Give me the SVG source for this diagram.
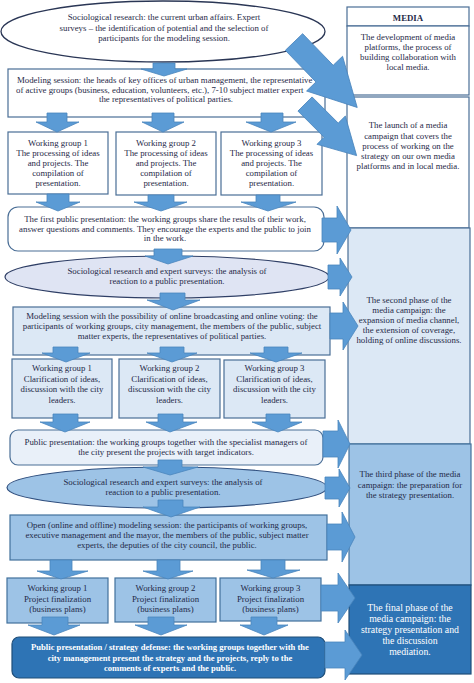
<svg xmlns="http://www.w3.org/2000/svg" width="474" height="683" viewBox="0 0 474 683">
<style>
text{font-family:"Liberation Serif","Times New Roman",serif;font-size:8.8px;fill:#1f2a48;text-anchor:middle}
.w{fill:#ffffff;stroke:#4a6e96;stroke-width:1.2}
.l{fill:#dce8f5;stroke:#4a6e96;stroke-width:1.2}
.m{fill:#9dc3e6;stroke:#41719c;stroke-width:1.2}
.d{fill:#2e74b5;stroke:#1f4e79;stroke-width:1.2}
.arr{fill:#5b9bd5;stroke:#4a85bd;stroke-width:0.8}
.b{font-weight:bold}
.wt{fill:#ffffff}
.big{font-size:9.8px}
</style>
<rect width="474" height="683" fill="#ffffff"/>

<g id="media">
<rect x="347" y="7" width="122" height="19" class="w"/>
<text x="408" y="20.5" class="b">MEDIA</text>
<rect x="347" y="26" width="122" height="69" class="w"/>
<text x="408" y="40">The development of media</text>
<text x="408" y="50">platforms, the process of</text>
<text x="408" y="60">building collaboration with</text>
<text x="408" y="70">local media.</text>
<rect x="347" y="97" width="122" height="131" class="w"/>
<text x="408" y="128">The launch of a media</text>
<text x="408" y="138.5">campaign that covers the</text>
<text x="408" y="149">process of working on the</text>
<text x="408" y="159">strategy on our own media</text>
<text x="408" y="169">platforms and in local media.</text>
<rect x="348" y="228" width="122" height="216" class="l"/>
<text x="409" y="303">The second phase of the</text>
<text x="409" y="313">media campaign: the</text>
<text x="409" y="323">expansion of media channel,</text>
<text x="409" y="333">the extension of coverage,</text>
<text x="409" y="343">holding of online discussions.</text>
<rect x="349" y="444" width="122" height="141" class="m"/>
<text x="410" y="477">The third phase of the media</text>
<text x="410" y="487.5">campaign: the preparation for</text>
<text x="410" y="498">the strategy presentation.</text>
<rect x="349" y="585" width="122" height="89" class="d"/>
<text x="410" y="611" class="wt big">The final phase of the</text>
<text x="410" y="622" class="wt big">media campaign: the</text>
<text x="410" y="633" class="wt big">strategy presentation and</text>
<text x="410" y="644" class="wt big">the discussion</text>
<text x="410" y="655" class="wt big">mediation.</text>
</g>

<g id="survey1">
<ellipse cx="163" cy="31.5" rx="162" ry="30.5" fill="#ffffff" stroke="#2a3655" stroke-width="1.3"/>
<text x="164" y="20">Sociological research: the current urban affairs. Expert</text>
<text x="164" y="30.5">surveys – the identification of potential and the selection of</text>
<text x="164" y="41">participants for the modeling session.</text>
</g>

<g id="modeling1">
<rect x="8" y="69" width="317" height="48" class="w"/>
<text x="17" y="83" style="text-anchor:start">Modeling session: the heads of key offices of urban management, the representative</text>
<text x="16" y="92.5" style="text-anchor:start">of active groups (business, education, volunteers, etc.), 7-10 subject matter expert</text>
<text x="166" y="102">the representatives of political parties.</text>
</g>

<g id="wg1a">
<rect x="8" y="132" width="100" height="62" class="w"/>
<text x="58" y="146">Working group 1</text>
<text x="58" y="156">The processing of ideas</text>
<text x="58" y="166">and projects. The</text>
<text x="58" y="176">compilation of</text>
<text x="58" y="186">presentation.</text>
</g>
<g id="wg2a">
<rect x="116" y="132" width="100" height="63" class="w"/>
<text x="166" y="146">Working group 2</text>
<text x="166" y="156">The processing of ideas</text>
<text x="166" y="166">and projects. The</text>
<text x="166" y="176">compilation of</text>
<text x="166" y="186">presentation.</text>
</g>
<g id="wg3a">
<rect x="221" y="132" width="101" height="63" class="w"/>
<text x="271.5" y="146">Working group 3</text>
<text x="271.5" y="156">The processing of ideas</text>
<text x="271.5" y="166">and projects. The</text>
<text x="271.5" y="176">compilation of</text>
<text x="271.5" y="186">presentation.</text>
</g>

<g id="presentation1">
<rect x="8" y="207" width="316" height="44" rx="10" class="w"/>
<text x="165" y="222">The first public presentation: the working groups share the results of their work,</text>
<text x="165" y="231.5">answer questions and comments. They encourage the experts and the public to join</text>
<text x="165" y="241">in the work.</text>
</g>

<g id="survey2">
<ellipse cx="167" cy="277" rx="162" ry="21" fill="#dfe4f3" stroke="#2f3f66" stroke-width="1.2"/>
<text x="167" y="274">Sociological research and expert surveys: the analysis of</text>
<text x="167" y="284">reaction to a public presentation.</text>
</g>

<g id="modeling2">
<rect x="13" y="307" width="317" height="48" class="l"/>
<text x="172" y="319">Modeling session with the possibility of online broadcasting and online voting: the</text>
<text x="172" y="329">participants of working groups, city management, the members of the public, subject</text>
<text x="172" y="339">matter experts, the representatives of political parties.</text>
</g>

<g id="wg1b">
<rect x="12" y="359" width="100" height="59" class="l"/>
<text x="62" y="371">Working group 1</text>
<text x="62" y="381.5">Clarification of ideas,</text>
<text x="62" y="392">discussion with the city</text>
<text x="62" y="402.5">leaders.</text>
</g>
<g id="wg2b">
<rect x="119" y="359" width="101" height="59" class="l"/>
<text x="169.5" y="371">Working group 2</text>
<text x="169.5" y="381.5">Clarification of ideas,</text>
<text x="169.5" y="392">discussion with the city</text>
<text x="169.5" y="402.5">leaders.</text>
</g>
<g id="wg3b">
<rect x="224" y="360" width="101" height="58" class="l"/>
<text x="274.5" y="371">Working group 3</text>
<text x="274.5" y="381.5">Clarification of ideas,</text>
<text x="274.5" y="392">discussion with the city</text>
<text x="274.5" y="402.5">leaders.</text>
</g>

<g id="presentation2">
<rect x="10" y="430" width="313" height="35" rx="8" fill="#e9f0f9" stroke="#4a6e96" stroke-width="1.2"/>
<text x="166" y="445">Public presentation: the working groups together with the specialist managers of</text>
<text x="166" y="455">the city present the projects with target indicators.</text>
</g>

<g id="survey3">
<ellipse cx="167" cy="487.5" rx="160" ry="20.5" fill="#9dc3e6" stroke="#2f4f7f" stroke-width="1.2"/>
<text x="163" y="485">Sociological research and expert surveys: the analysis of</text>
<text x="163" y="495">reaction to a public presentation.</text>
</g>

<g id="modeling3">
<rect x="10" y="515" width="317" height="45" class="m"/>
<text x="167" y="528">Open (online and offline) modeling session: the participants of working groups,</text>
<text x="167" y="538">executive management and the mayor, the members of the public, subject matter</text>
<text x="167" y="548">experts, the deputies of the city council, the public.</text>
</g>

<g id="wg1c">
<rect x="7" y="578" width="101" height="45" class="m"/>
<text x="57.5" y="591">Working group 1</text>
<text x="57.5" y="601.5">Project finalization</text>
<text x="57.5" y="612">(business plans)</text>
</g>
<g id="wg2c">
<rect x="115" y="578" width="101" height="44" class="m"/>
<text x="165.5" y="591">Working group 2</text>
<text x="165.5" y="601.5">Project finalization</text>
<text x="165.5" y="612">(business plans)</text>
</g>
<g id="wg3c">
<rect x="220" y="578" width="101" height="43" class="m"/>
<text x="270.5" y="591">Working group 3</text>
<text x="270.5" y="601.5">Project finalization</text>
<text x="270.5" y="612">(business plans)</text>
</g>

<g id="defense">
<rect x="12" y="637" width="313" height="41" rx="7" class="d"/>
<text x="170" y="650" class="b wt" style="font-size:8.6px">Public presentation / strategy defense: the working groups together with the</text>
<text x="170" y="660.5" class="b wt" style="font-size:8.6px">city management present the strategy and the projects, reply to the</text>
<text x="170" y="671" class="b wt" style="font-size:8.6px">comments of experts and the public.</text>
</g>

<g id="connectors">
<!-- down arrows -->
<polygon class="arr" points="153,63 175,63 175,69 187,69 164,76 141,69 153,69"/>
<polygon class="arr" points="47,113 67,113 67,122 79,122 57,132 36,122 47,122"/>
<polygon class="arr" points="152,113 174,113 174,122 184,122 163,132 142,122 152,122"/>
<polygon class="arr" points="261,113 283,113 283,122 296,122 271,132 246,122 261,122"/>
<polygon class="arr" points="47,194 69,194 69,202 80,202 58,211 36,202 47,202"/>
<polygon class="arr" points="148,195 174,195 174,202 187,202 161,211 134,202 148,202"/>
<polygon class="arr" points="256,195 280,195 280,202 296,202 268,211 241,202 256,202"/>
<polygon class="arr" points="154,249 182,249 182,256 193,256 168,264 145,256 154,256"/>
<polygon class="arr" points="160,293 185,293 185,300 200,300 173,310 147,300 160,300"/>
<polygon class="arr" points="53,347 78,347 78,353 90,353 66,362 42,353 53,353"/>
<polygon class="arr" points="160,347 184,347 184,353 197,353 172,362 147,353 160,353"/>
<polygon class="arr" points="264,347 288,347 288,353 302,353 276,362 250,353 264,353"/>
<polygon class="arr" points="53,414 78,414 78,422 90,422 65,432 40,422 53,422"/>
<polygon class="arr" points="158,414 183,414 183,422 197,422 170,432 146,422 158,422"/>
<polygon class="arr" points="266,414 290,414 290,422 302,422 278,432 252,422 266,422"/>
<polygon class="arr" points="158,460 182,460 182,467 198,467 170,475 143,467 158,467"/>
<polygon class="arr" points="158,500 183,500 183,507 200,507 171,517 143,507 158,507"/>
<polygon class="arr" points="50,560 72,560 72,571 88,571 61,579 37,571 50,571"/>
<polygon class="arr" points="157,560 180,560 180,571 193,571 168,579 143,571 157,571"/>
<polygon class="arr" points="261,560 285,560 285,570 300,570 273,578 247,570 261,570"/>
<polygon class="arr" points="42,617 68,617 68,625 80,625 54,635 28,625 42,625"/>
<polygon class="arr" points="148,617 174,617 174,625 187,625 161,635 135,625 148,625"/>
<polygon class="arr" points="251,617 277,617 277,625 288,625 264,635 240,625 251,625"/>
<!-- right arrows -->
<polygon class="arr" points="322,218 337,218 337,206 351,230 337,254 337,242 322,242"/>
<polygon class="arr" points="328,265 340,265 340,258 352,277 340,296 340,289 328,289"/>
<polygon class="arr" points="330,313 343,313 343,302 358,326 343,350 343,339 330,339"/>
<polygon class="arr" points="323,431 338,431 338,420 350,444 338,468 338,457 323,457"/>
<polygon class="arr" points="325,477 339,477 339,469 350,488 339,507 339,499 325,499"/>
<polygon class="arr" points="327,524 342,524 342,512 355,537 342,562 342,550 327,550"/>
<polygon class="arr" points="321,585 338,585 338,573 355,598 338,623 338,611 321,611"/>
<polygon class="arr" points="325,642 345,642 345,630 362,655 345,680 345,668 325,668"/>
<!-- diagonal arrows -->
<polygon class="arr" transform="translate(294,42) rotate(46)" points="0,-12 44,-12 44,-25 91,0 44,25 44,12 0,12"/>
<polygon class="arr" transform="translate(305,104) rotate(45)" points="0,-10 37,-10 37,-20 73,0 37,20 37,10 0,10"/>
</g>
</svg>
